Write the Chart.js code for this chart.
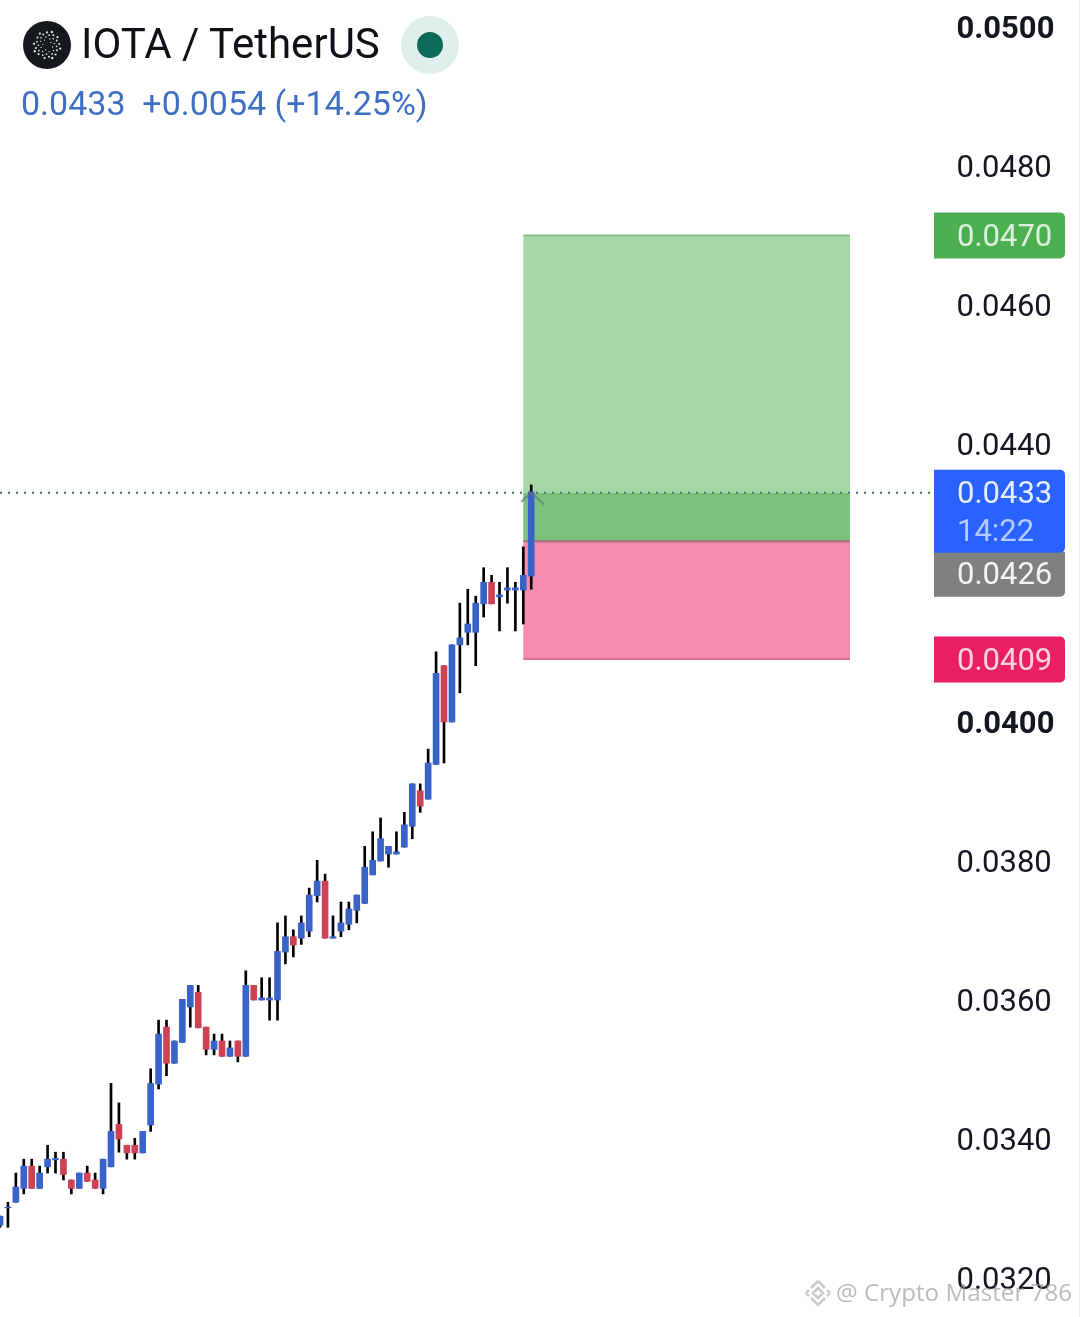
<!DOCTYPE html>
<html>
<head>
<meta charset="utf-8">
<title>IOTA / TetherUS</title>
<script src="https://cdn.jsdelivr.net/npm/chart.js@4"></script>
<style>
  html, body { margin: 0; padding: 0; background: #fff; }
  #wrap { position: relative; width: 1080px; height: 1317px; overflow: hidden; font-family: Roboto, sans-serif; }
  #wrap::after { content: ''; position: absolute; top: 0; right: 0; width: 1px; height: 100%; background: #f1f1f1; }
  canvas { position: absolute; left: 0; top: 0; }
  .title { position: absolute; left: 81px; top: 19px; font-size: 42px; line-height: 50px; color: #0e1116; white-space: nowrap; }
  .quote { position: absolute; left: 21px; top: 83px; font-size: 34px; line-height: 40px; color: #3f6fc0; white-space: pre; }
  .icon { position: absolute; left: 23px; top: 21px; }
  .status { position: absolute; left: 401px; top: 16px; width: 58px; height: 58px; border-radius: 50%; background: #dff0ec; }
  .status i { position: absolute; left: 16px; top: 16px; width: 26px; height: 26px; border-radius: 50%; background: #0b6b58; }
  .mark { position: absolute; left: 836px; top: 1275px; font-family: "Open Sans", sans-serif; font-size: 24.2px; line-height: 34px; color: rgba(150,150,150,0.65); white-space: nowrap; }
  .logo { position: absolute; left: 803px; top: 1278px; }
</style>
</head>
<body>
<div id="wrap">
  <canvas id="chart" width="1080" height="1317"></canvas>
  <svg class="icon" id="iota" width="48" height="48" viewBox="0 0 48 48"><circle cx="24" cy="24" r="24" fill="#15181d"/></svg>
  <div class="title">IOTA / TetherUS</div>
  <div class="status"><i></i></div>
  <div class="quote">0.0433  +0.0054 (+14.25%)</div>
  <svg class="logo" width="30" height="30" viewBox="0 0 30 30" fill="none" stroke="rgba(150,150,150,0.5)" stroke-width="2.5">
    <path d="M15 3 L22 10 M15 3 L8 10 M3 15 L6 12 M27 15 L24 12 M3 15 L6 18 M27 15 L24 18 M10 15 L15 10 L20 15 L15 20 Z M8 20 L15 27 L22 20"/>
  </svg>
  <div class="mark">@ Crypto Master 786</div>
</div>
<script>
// Candle values, one entry per candle from left to right
const opens = [0.03276, 0.03301, 0.03309, 0.03329, 0.03361, 0.03329, 0.03360, 0.03370, 0.03371, 0.03341,
  0.03329, 0.03351, 0.03341, 0.03329, 0.03360, 0.03421, 0.03391, 0.03391, 0.03380, 0.03420,
  0.03479, 0.03561, 0.03509, 0.03539, 0.03590, 0.03611, 0.03561, 0.03529, 0.03541, 0.03519,
  0.03541, 0.03519, 0.03621, 0.03600, 0.03600, 0.03600, 0.03669, 0.03691, 0.03689, 0.03699,
  0.03750, 0.03771, 0.03689, 0.03699, 0.03709, 0.03729, 0.03739, 0.03780, 0.03800, 0.03810,
  0.03810, 0.03820, 0.03850, 0.03901, 0.03889, 0.03939, 0.04081, 0.04000, 0.04111, 0.04129,
  0.04129, 0.04170, 0.04201, 0.04180, 0.04190, 0.04190, 0.04190, 0.04210];
const highs = [0.03289, 0.03309, 0.03351, 0.03371, 0.03371, 0.03361, 0.03391, 0.03381, 0.03381, 0.03341,
  0.03351, 0.03361, 0.03351, 0.03371, 0.03480, 0.03452, 0.03391, 0.03401, 0.03411, 0.03501,
  0.03571, 0.03571, 0.03541, 0.03601, 0.03621, 0.03621, 0.03561, 0.03551, 0.03551, 0.03541,
  0.03541, 0.03642, 0.03621, 0.03632, 0.03632, 0.03711, 0.03721, 0.03701, 0.03721, 0.03761,
  0.03801, 0.03781, 0.03721, 0.03741, 0.03741, 0.03751, 0.03821, 0.03842, 0.03862, 0.03821,
  0.03842, 0.03870, 0.03911, 0.03911, 0.03961, 0.04101, 0.04081, 0.04111, 0.04171, 0.04191,
  0.04181, 0.04222, 0.04211, 0.04201, 0.04222, 0.04201, 0.04252, 0.04341];
const lows = [0.03273, 0.03273, 0.03309, 0.03321, 0.03329, 0.03329, 0.03351, 0.03351, 0.03341, 0.03321,
  0.03329, 0.03339, 0.03329, 0.03321, 0.03360, 0.03381, 0.03371, 0.03371, 0.03380, 0.03411,
  0.03472, 0.03491, 0.03509, 0.03539, 0.03561, 0.03560, 0.03521, 0.03521, 0.03519, 0.03519,
  0.03511, 0.03519, 0.03600, 0.03600, 0.03571, 0.03571, 0.03652, 0.03662, 0.03680, 0.03691,
  0.03741, 0.03689, 0.03689, 0.03691, 0.03701, 0.03711, 0.03739, 0.03780, 0.03800, 0.03791,
  0.03810, 0.03820, 0.03832, 0.03870, 0.03889, 0.03939, 0.03941, 0.04000, 0.04042, 0.04111,
  0.04081, 0.04151, 0.04170, 0.04131, 0.04171, 0.04131, 0.04141, 0.04191];
const closes = [0.03289, 0.03302, 0.03331, 0.03361, 0.03329, 0.03351, 0.03371, 0.03372, 0.03349, 0.03329,
  0.03351, 0.03339, 0.03329, 0.03371, 0.03411, 0.03400, 0.03380, 0.03380, 0.03411, 0.03480,
  0.03551, 0.03509, 0.03541, 0.03601, 0.03621, 0.03560, 0.03529, 0.03541, 0.03519, 0.03531,
  0.03519, 0.03621, 0.03600, 0.03603, 0.03603, 0.03670, 0.03691, 0.03679, 0.03711, 0.03751,
  0.03771, 0.03689, 0.03691, 0.03711, 0.03731, 0.03751, 0.03791, 0.03801, 0.03832, 0.03821,
  0.03813, 0.03852, 0.03911, 0.03879, 0.03941, 0.04070, 0.04000, 0.04111, 0.04121, 0.04141,
  0.04171, 0.04201, 0.04170, 0.04183, 0.04193, 0.04193, 0.04211, 0.04331];

// Price axis labels, the round ones are bold
const yTicks = [0.0320, 0.0340, 0.0360, 0.0380, 0.0400, 0.0440, 0.0460, 0.0480, 0.0500];
const boldTicks = [0.0400, 0.0500];

// Long position tool: target, entry and stop, and the candle positions it spans
const lastPrice = 0.0433;
const targetPrice = 0.0470;
const entryPrice = 0.0426;
const stopPrice = 0.0409;
const toolFrom = 66;
const toolTo = 107.2;
const countdown = '14:22';

const upColor = '#3a63c9';
const downColor = '#cd4255';
const wickColor = '#000000';

// Scale limits that put the picture's price grid on the canvas
const yMin = 0.031439;
const yMax = 0.050388;
const xMin = 0;
const xMax = 117.8;

// White dots for the coin icon
const iota = document.getElementById('iota');
for (let i = 4; i < 46; i++) {
    const a = i * 2.4;
    const r = Math.sqrt(i) * 2.1;
    const dot = document.createElementNS('http://www.w3.org/2000/svg', 'circle');
    dot.setAttribute('cx', 24 + r * Math.cos(a));
    dot.setAttribute('cy', 24 + r * Math.sin(a));
    dot.setAttribute('r', 0.55 + i / 70);
    dot.setAttribute('fill', '#e9e9e9');
    iota.appendChild(dot);
}

const fix = (v) => v.toFixed(4);

function roundRight(ctx, x, y, w, h, r) {
    ctx.beginPath();
    ctx.roundRect(x, y, w, h, [0, r[0], r[1], 0]);
    ctx.fill();
}

// Position tool rectangles sit under the candles
const toolPlugin = {
    id: 'tool',
    beforeDatasetsDraw(chart) {
        const { ctx, scales } = chart;
        const l = scales.x.getPixelForValue(toolFrom);
        const w = scales.x.getPixelForValue(toolTo) - l;
        const yT = scales.y.getPixelForValue(targetPrice);
        const yL = scales.y.getPixelForValue(lastPrice);
        const yE = scales.y.getPixelForValue(entryPrice);
        const yS = scales.y.getPixelForValue(stopPrice);
        ctx.save();
        ctx.fillStyle = '#a5d8a6';
        ctx.fillRect(l, yT, w, yL - yT);
        ctx.fillStyle = '#7bc37c';
        ctx.fillRect(l, yL, w, yE - yL);
        ctx.fillStyle = '#f48cb0';
        ctx.fillRect(l, yE, w, yS - yE);
        ctx.fillStyle = '#8cbc8d';
        ctx.fillRect(l, yT - 1, w, 2);
        ctx.fillStyle = '#a86a80';
        ctx.fillRect(l, yE - 1, w, 2);
        ctx.fillStyle = '#dc6f94';
        ctx.fillRect(l, yS - 1.5, w, 2);
        ctx.restore();
    },
    afterDatasetsDraw(chart) {
        // small arrow head on the running candle
        const { ctx, scales } = chart;
        const x = scales.x.getPixelForValue(closes.length - 1);
        const y = scales.y.getPixelForValue(lastPrice);
        ctx.save();
        ctx.strokeStyle = 'rgba(90,110,130,0.65)';
        ctx.lineWidth = 2;
        ctx.beginPath();
        ctx.moveTo(x - 10, y + 9);
        ctx.lineTo(x, y);
        ctx.lineTo(x + 13, y + 12);
        ctx.stroke();
        ctx.restore();
    }
};

// Coloured price tags over the axis
const tagPlugin = {
    id: 'tags',
    afterDraw(chart) {
        const { ctx, scales } = chart;
        const left = 934;
        const width = 131;
        const textX = 957;
        const y = (v) => scales.y.getPixelForValue(v);
        const label = (text, ty, color) => {
            ctx.fillStyle = color;
            ctx.fillText(text, textX, ty);
        };
        ctx.save();
        ctx.font = '31px Roboto';
        ctx.textAlign = 'left';
        ctx.textBaseline = 'middle';

        ctx.fillStyle = '#4caf50';
        roundRight(ctx, left, y(targetPrice) - 23, width, 46, [5, 5]);
        label(fix(targetPrice), y(targetPrice) + 3, '#ddf1de');

        ctx.fillStyle = '#808080';
        roundRight(ctx, left, y(lastPrice) + 59, width, 45, [0, 5]);
        label(fix(entryPrice), y(lastPrice) + 84, '#f4f4f4');

        ctx.fillStyle = '#2962ff';
        roundRight(ctx, left, y(lastPrice) - 23, width, 83, [5, 5]);
        label(fix(lastPrice), y(lastPrice) + 3, '#e6edff');
        label(countdown, y(lastPrice) + 41, '#b4cbff');

        ctx.fillStyle = '#e91e63';
        roundRight(ctx, left, y(stopPrice) - 23, width, 46, [5, 5]);
        label(fix(stopPrice), y(stopPrice) + 3, '#fbd3e1');
        ctx.restore();
    }
};

const index = closes.map((c, i) => i);

new Chart(document.getElementById('chart'), {
    type: 'bar',
    data: {
        datasets: [
            {
                type: 'line',
                data: [{ x: xMin, y: lastPrice }, { x: 117.3, y: lastPrice }],
                borderColor: '#3f6b75',
                borderWidth: 2,
                borderDash: [2, 6],
                pointRadius: 0,
                order: 1
            },
            {
                data: index.map((i) => ({ x: i, y: [lows[i], highs[i]] })),
                backgroundColor: wickColor,
                barThickness: 2,
                grouped: false,
                order: 3
            },
            {
                data: index.map((i) => ({ x: i, y: [opens[i], closes[i]] })),
                backgroundColor: index.map((i) => (closes[i] >= opens[i] ? upColor : downColor)),
                barThickness: 6,
                grouped: false,
                order: 2
            }
        ]
    },
    options: {
        responsive: false,
        animation: false,
        devicePixelRatio: 1,
        layout: { padding: 0 },
        plugins: { legend: { display: false }, title: { display: false }, tooltip: { enabled: false } },
        scales: {
            x: {
                type: 'linear',
                display: false,
                offset: false,
                min: xMin,
                max: xMax
            },
            y: {
                position: 'right',
                min: yMin,
                max: yMax,
                grid: { display: false, drawTicks: false },
                border: { display: false },
                afterBuildTicks(scale) {
                    scale.ticks = yTicks.map((v) => ({ value: v }));
                },
                afterFit(scale) {
                    scale.width = 146;
                    scale.paddingTop = 0;
                    scale.paddingBottom = 0;
                },
                ticks: {
                    autoSkip: false,
                    padding: 22.5,
                    labelOffset: 3,
                    color: '#131722',
                    callback: (v) => fix(v),
                    font: (c) => ({
                        family: 'Roboto',
                        size: 31,
                        weight: c.tick && boldTicks.includes(c.tick.value) ? 'bold' : 'normal'
                    })
                }
            }
        }
    },
    plugins: [toolPlugin, tagPlugin]
});
</script>
</body>
</html>
